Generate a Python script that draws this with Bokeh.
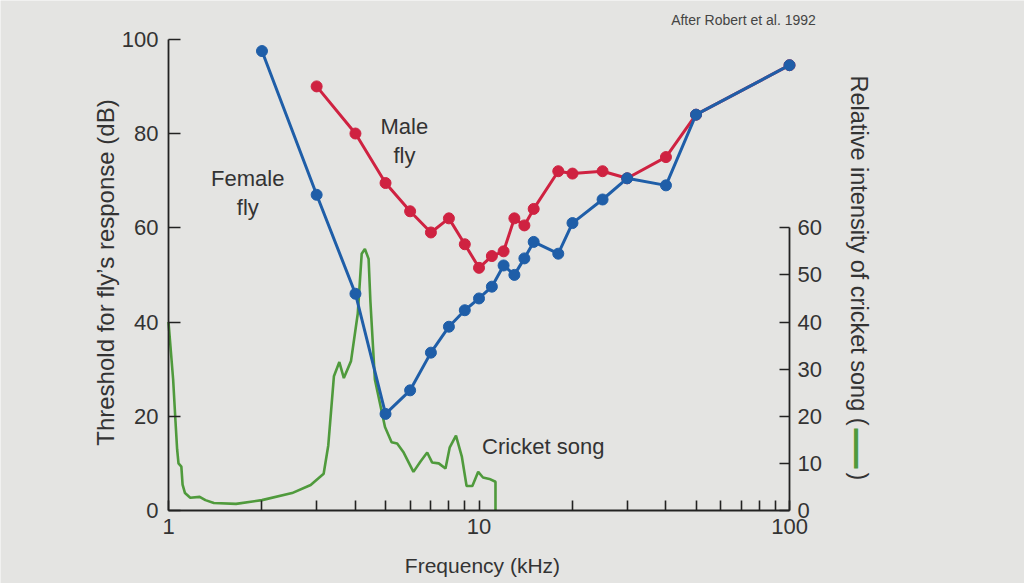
import math
from bokeh.plotting import figure
from bokeh.models import LinearAxis, FixedTicker, BasicTickFormatter, Label, Range1d
from bokeh.embed import file_html
from bokeh.resources import INLINE

# ---- data ----
female_freq = [2, 3, 4, 5, 6, 7, 8, 9, 10, 11, 12, 13, 14, 15, 18, 20, 25, 30, 40, 50, 100]
female_db = [97.5, 67, 46, 20.5, 25.5, 33.5, 39, 42.5, 45, 47.5, 52, 50, 53.5, 57, 54.5,
             61, 66, 70.5, 69, 84, 94.5]

male_freq = [3, 4, 5, 6, 7, 8, 9, 10, 11, 12, 13, 14, 15, 18, 20, 25, 30, 40, 50, 100]
male_db = [90, 80, 69.5, 63.5, 59, 62, 56.5, 51.5, 54, 55, 62, 60.5, 64, 72, 71.5,
           72, 70.5, 75, 84, 94.5]

song_freq = [1.0, 1.035, 1.053, 1.066, 1.077, 1.10, 1.11, 1.13, 1.175, 1.26, 1.315, 1.40,
             1.65, 2.0, 2.5, 2.87, 3.16, 3.27, 3.41, 3.55, 3.67, 3.87, 4.07, 4.19, 4.29,
             4.41, 4.47, 4.62, 4.98, 5.23, 5.45, 5.72, 6.15, 6.48, 6.81, 7.06, 7.42, 7.8,
             8.05, 8.43, 8.8, 9.12, 9.52, 9.94, 10.3, 10.8, 11.3, 11.3]
song_level = [40, 27.8, 19, 13, 10, 9.3, 5.5, 3.7, 2.7, 2.9, 2.2, 1.6,
              1.4, 2.2, 3.7, 5.4, 7.8, 13.8, 28.5, 31.5, 28.1, 31.7, 41.8, 54.5, 55.5,
              53.4, 44.3, 27.8, 17.7, 14.5, 14.2, 12.3, 8.2, 10.4, 12.3, 10.2, 10.0, 8.9,
              13.4, 15.9, 11.5, 5.2, 5.2, 8.2, 7.0, 6.7, 6.1, 0]

x_ticks = [1, 10, 100]
x_minor = [2, 3, 4, 5, 6, 7, 8, 9, 20, 30, 40, 50, 60, 70, 80, 90]
left_ticks = [0, 20, 40, 60, 80, 100]
right_ticks = [0, 10, 20, 30, 40, 50, 60]

BLUE = "#1f5ea8"
RED = "#cf2241"
GREEN = "#4f9a3c"
TXT = "#333333"
FONT = "Liberation Sans"
BG = "#e4e4e2"

p = figure(width=1024, height=583, x_axis_type="log",
           x_range=Range1d(0.2877, 571.2), y_range=Range1d(-15.49, 108.23),
           output_backend="svg", toolbar_location=None,
           min_border_left=0, min_border_right=0,
           min_border_top=0, min_border_bottom=0)

p.background_fill_color = BG
p.border_fill_color = BG
p.outline_line_color = None
p.grid.visible = False

# bottom axis (at 0 dB)
xa = p.xaxis[0]
xa.fixed_location = 0
xa.ticker = FixedTicker(ticks=x_ticks, minor_ticks=x_minor)
xa.formatter = BasicTickFormatter()
xa.bounds = (1, 100)
xa.major_tick_in = 10
xa.major_tick_out = 0
xa.minor_tick_in = 10
xa.minor_tick_out = 0

# left axis (at 1 kHz)
ya = p.yaxis[0]
ya.fixed_location = 1
ya.ticker = FixedTicker(ticks=left_ticks)
ya.bounds = (0, 100)
ya.major_tick_in = 12
ya.major_tick_out = 0
ya.minor_tick_in = 0
ya.minor_tick_out = 0

# right axis (cricket song scale), placed at 100 kHz
ra = LinearAxis(ticker=FixedTicker(ticks=right_ticks), bounds=(0, 60), fixed_location=100)
ra.major_tick_in = 10
ra.major_tick_out = 0
ra.minor_tick_in = 0
ra.minor_tick_out = 0
p.add_layout(ra, "right")

for ax in (xa, ya, ra):
    ax.axis_line_color = "#222222"
    ax.axis_line_width = 1.8
    ax.major_tick_line_color = "#222222"
    ax.major_tick_line_width = 1.6
    ax.minor_tick_line_color = "#222222"
    ax.minor_tick_line_width = 1.6
    ax.major_label_text_font = FONT
    ax.major_label_text_font_size = "22px"
    ax.major_label_text_color = TXT
    ax.major_label_standoff = 8
ya.major_label_standoff = 10

# series
p.line(song_freq, song_level, line_color=GREEN, line_width=2.6)
p.line(male_freq, male_db, line_color=RED, line_width=3)
p.scatter(male_freq, male_db, size=11, fill_color=RED, line_color=RED)
p.line(female_freq, female_db, line_color=BLUE, line_width=3)
p.scatter(female_freq, female_db, size=11, fill_color=BLUE, line_color=BLUE)

def lab(x, y, text, size="22px", color=TXT, font=FONT, **kw):
    l = Label(x=x, y=y, text=text, text_font=font, text_font_size=size,
              text_color=color, text_align=kw.pop("align", "center"),
              text_baseline=kw.pop("baseline", "middle"), **kw)
    p.add_layout(l)

# axis titles
lab(0.6267, 50.5, "Threshold for fly\u2019s response (dB)", size="24px", angle=math.pi / 2)
lab(10.26, -11.67, "Frequency (kHz)", size="21px")
lab(166.8, 92.3, "Relative intensity of cricket song (", size="23.5px",
    align="left", angle=-math.pi / 2)
lab(166.8, 17.4, "\u2014", size="40px", color=GREEN, align="left",
    angle=-math.pi / 2, text_font_style="bold")
lab(166.8, 8.06, ")", size="23.5px", align="left", angle=-math.pi / 2)

# in-plot annotations
lab(1.80, 70.5, "Female")
lab(1.80, 64.3, "fly")
lab(5.75, 81.5, "Male")
lab(5.75, 75.3, "fly")
lab(16.1, 13.6, "Cricket song")
lab(71.1, 104.0, "After Robert et al. 1992", size="14px", color="#444444")

open("out.html", "w").write(file_html(p, INLINE))
